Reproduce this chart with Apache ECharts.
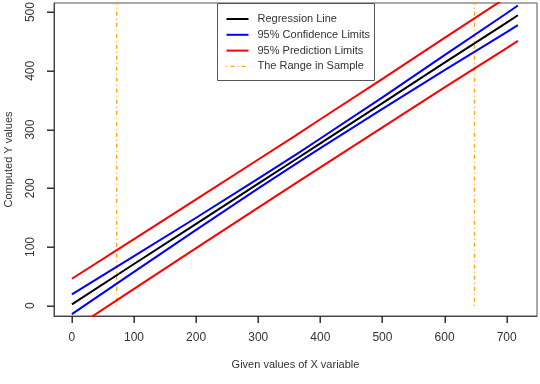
<!DOCTYPE html>
<html>
<head>
<meta charset="utf-8">
<script src="https://cdn.jsdelivr.net/npm/echarts/dist/echarts.min.js"></script>
<style>html,body{margin:0;padding:0;background:#fff}#c{width:540px;height:384px}</style>
</head>
<body>
<div id="c"></div>
<script>
// values
const xs       = [0, 100, 200, 300, 360, 400, 500, 600, 700, 718];
const regLine  = [2.4, 71, 139.5, 208, 249, 276.6, 345, 414, 482, 494.6];
const ciUpper  = [19.2, 84.3, 149.8, 216.3, 256.9, 284.7, 354.8, 426.7, 498.1, 511.3];
const ciLower  = [-14.4, 57.7, 129.2, 199.7, 241.1, 268.5, 335.2, 401.3, 465.9, 477.9];
const piUpper  = [45.9, 113.3, 181, 249, 289.8, 317.5, 386.4, 456.2, 525.3, 538.1];
const piLower  = [-41.1, 28.7, 98, 167, 208.2, 235.7, 303.6, 371.8, 438.7, 451.1];
const sampleRange = [72, 648];
const rangeYFrom = 0, rangeYTo = 600;
const xTicks = [0, 100, 200, 300, 400, 500, 600, 700];
const yTicks = [0, 100, 200, 300, 400, 500];
const legendNames = ['Regression Line', '95% Confidence Limits', '95% Prediction Limits', 'The Range in Sample'];
const legendColors = ['#000000', '#0000FF', '#FF0000', '#FFA500'];

const X_MIN = -28.8, X_MAX = 748.8, Y_MIN = -17.5, Y_MAX = 515.5;
const pair = arr => xs.map((x, i) => [x, arr[i]]);
const font = 'Liberation Sans, Arial, sans-serif';
const txt = '#333';
const dotdash = [1, 3, 4, 3];
const TICK_LEN = 7;

const series = [
  {name: legendNames[0], data: pair(regLine), color: legendColors[0]},
  {name: legendNames[1], data: pair(ciUpper), color: legendColors[1]},
  {name: legendNames[1], data: pair(ciLower), color: legendColors[1]},
  {name: legendNames[2], data: pair(piUpper), color: legendColors[2]},
  {name: legendNames[2], data: pair(piLower), color: legendColors[2]}
].map(s => ({
  type: 'line', name: s.name, data: s.data, symbol: 'none', showSymbol: false,
  color: s.color, lineStyle: {color: s.color, width: 2}, clip: true, z: 3
}));
sampleRange.forEach(x => series.push({
  type: 'line', name: legendNames[3], data: [[x, rangeYFrom], [x, rangeYTo]],
  symbol: 'none', showSymbol: false, color: legendColors[3], clip: true, z: 2,
  lineStyle: {color: legendColors[3], width: 1.2, type: dotdash}
}));

// legend box drawn as graphic elements
const legendChildren = [{
  type: 'rect', shape: {x: 0, y: 0, width: 157, height: 77},
  style: {fill: '#fff', stroke: '#555', lineWidth: 1}
}];
legendNames.forEach((n, i) => {
  const cy = 15.5 + i * 15.8;
  legendChildren.push({
    type: 'line', shape: {x1: 9, y1: cy, x2: 31, y2: cy},
    style: {stroke: legendColors[i], lineWidth: i === 3 ? 1.2 : 2, lineDash: i === 3 ? dotdash : null}
  });
  legendChildren.push({
    type: 'text', x: 40, y: cy,
    style: {text: n, fill: txt, font: '11px ' + font, textVerticalAlign: 'middle', verticalAlign: 'middle'}
  });
});

const axisLineStyle = {show: true, onZero: false, lineStyle: {color: '#444', width: 1}};

const chart = echarts.init(document.getElementById('c'), null, {renderer: 'canvas'});
chart.setOption({
  animation: false,
  backgroundColor: '#fff',
  textStyle: {fontFamily: font},
  grid: {left: 54, right: 3, top: 3, bottom: 68, containLabel: false, outerBoundsMode: 'none',
         show: true, borderColor: '#555', borderWidth: 1, backgroundColor: 'transparent'},
  graphic: [{id: 'legend', type: 'group', left: 217, top: 3, z: 100, children: legendChildren}],
  xAxis: {
    type: 'value', min: X_MIN, max: X_MAX,
    name: 'Given values of X variable', nameLocation: 'middle', nameGap: 43,
    nameTextStyle: {fontFamily: font, fontSize: 11, color: txt},
    axisLine: axisLineStyle, splitLine: {show: false},
    axisTick: {show: false},
    axisLabel: {fontFamily: font, fontSize: 12, color: txt, margin: 16, customValues: xTicks}
  },
  yAxis: {
    type: 'value', min: Y_MIN, max: Y_MAX,
    name: 'Computed Y values', nameLocation: 'middle', nameGap: 40,
    nameTextStyle: {fontFamily: font, fontSize: 11, color: txt},
    axisLine: axisLineStyle, splitLine: {show: false},
    axisTick: {show: false},
    axisLabel: {fontFamily: font, fontSize: 12, color: txt, margin: 17, rotate: 90, customValues: yTicks}
  },
  series: series
});

// outward axis ticks, positioned through the chart's own scales
const tickEls = [];
xTicks.forEach((v, i) => {
  const p = chart.convertToPixel({gridIndex: 0}, [v, Y_MIN]);
  const x = Math.round(p[0]), y = Math.round(p[1]);
  tickEls.push({type: 'rect', id: 'xt' + i, z: 200, zlevel: 1, silent: true,
    shape: {x: x - 0.5, y: y, width: 1.4, height: TICK_LEN}, style: {fill: '#222'}});
});
yTicks.forEach((v, i) => {
  const p = chart.convertToPixel({gridIndex: 0}, [X_MIN, v]);
  const x = Math.round(p[0]), y = Math.round(p[1]);
  tickEls.push({type: 'rect', id: 'yt' + i, z: 200, zlevel: 1, silent: true,
    shape: {x: x - TICK_LEN, y: y - 0.5, width: TICK_LEN, height: 1.4}, style: {fill: '#222'}});
});
chart.setOption({graphic: tickEls});
</script>
</body>
</html>
